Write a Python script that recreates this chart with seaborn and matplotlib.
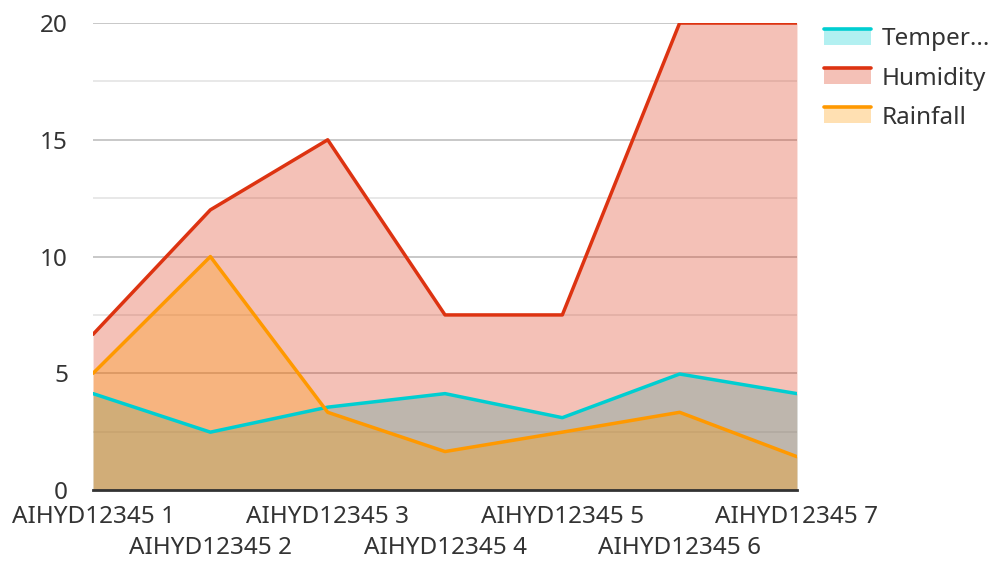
import pandas as pd
import numpy as np
import seaborn as sns
import matplotlib.pyplot as plt
from matplotlib.patches import Rectangle
from matplotlib.lines import Line2D
from matplotlib.legend_handler import HandlerBase

# data
categories = ['AIHYD12345 1', 'AIHYD12345 2', 'AIHYD12345 3', 'AIHYD12345 4',
              'AIHYD12345 5', 'AIHYD12345 6', 'AIHYD12345 7']
temperature = [4.13, 2.48, 3.55, 4.13, 3.1, 4.97, 4.13]
humidity = [6.67, 12, 15, 7.5, 7.5, 20, 20]
rainfall = [5, 10, 3.33, 1.65, 2.48, 3.33, 1.43]
series_names = ['Temperature', 'Humidity', 'Rainfall']
legend_labels = ['Temper...', 'Humidity', 'Rainfall']
colors = ['#00CED1', '#DD3311', '#FF9900']

sns.set_style('white')
plt.rcParams['font.family'] = ['Noto Sans', 'DejaVu Sans']

df = pd.DataFrame({'idx': np.arange(len(categories)),
                   'Temperature': temperature,
                   'Humidity': humidity,
                   'Rainfall': rainfall})
long = df.melt(id_vars='idx', var_name='series', value_name='value')

fig = plt.figure(figsize=(9.9, 5.62), dpi=100)
ax = fig.add_axes([0.094, 0.128, 0.711, 0.831])

# fills first (temperature, humidity, rainfall)
for name, c in zip(series_names, colors):
    ax.fill_between(df['idx'], 0, df[name], color=c, alpha=0.3, lw=0, zorder=2)

sns.lineplot(data=long, x='idx', y='value', hue='series', hue_order=series_names,
             palette=colors, sort=False, lw=2.5, legend=False, ax=ax, zorder=3)

ax.set_xlim(0, len(categories) - 1)
ax.set_ylim(0, 20)
ax.set_yticks([0, 5, 10, 15, 20])
ax.set_yticks([2.5, 7.5, 12.5, 17.5], minor=True)
ax.grid(True, which='major', axis='y', color='#c8c8c8', lw=1.4, zorder=0)
ax.grid(True, which='minor', axis='y', color='#e8e8e8', lw=1.4, zorder=0)
ax.set_axisbelow(True)
ax.set_xticks(df['idx'])
ax.set_xticklabels(categories)
ax.set_xlabel('')
ax.set_ylabel('')
ax.tick_params(axis='both', length=0, labelsize=17.5, labelcolor='#333333')
ax.tick_params(axis='y', pad=18)
for i, t in enumerate(ax.xaxis.get_major_ticks()):
    t.set_pad(11 if i % 2 == 0 else 33)
for s in ['left', 'right', 'top']:
    ax.spines[s].set_visible(False)
ax.spines['bottom'].set_color('#333333')
ax.spines['bottom'].set_linewidth(2)
ax.spines['bottom'].set_zorder(5)


class AreaHandler(HandlerBase):
    def create_artists(self, legend, orig_handle, xdescent, ydescent, width, height, fontsize, trans):
        c = orig_handle.get_color()
        top = -ydescent + height * 0.95
        rect = Rectangle((-xdescent, top - 11), width, 11, facecolor=c, alpha=0.3,
                         lw=0, transform=trans)
        line = Line2D([-xdescent, -xdescent + width], [top, top], color=c, lw=2.6, transform=trans)
        return [rect, line]


handles = [Line2D([], [], color=c) for c in colors]
fig.legend(handles, legend_labels, handler_map={Line2D: AreaHandler()},
           loc='upper left', bbox_to_anchor=(0.81, 0.99), frameon=False,
           fontsize=17.5, labelcolor='#333333', handlelength=1.95, handletextpad=0.42,
           labelspacing=0.62)

plt.savefig('out.png', dpi=100)
